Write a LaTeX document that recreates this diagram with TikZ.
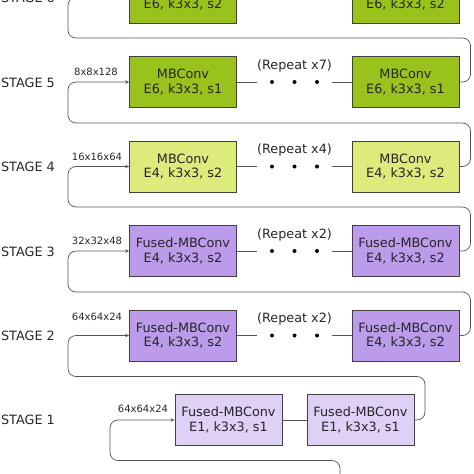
\documentclass[tikz,border=0pt]{standalone}
\usepackage{fontspec}
\setmainfont{DejaVu Sans}
\usetikzlibrary{arrows.meta}
\definecolor{gA}{HTML}{99C31C}
\definecolor{gB}{HTML}{DDEB7C}
\definecolor{pA}{HTML}{BB9BEA}
\definecolor{pB}{HTML}{DFD0F6}
\definecolor{ln}{HTML}{555555}
\definecolor{tx}{HTML}{262626}
\begin{document}
\begin{tikzpicture}[x=1pt,y=-1pt,
 blk/.style={draw=black!75, line width=0.8pt, minimum width=107pt, minimum height=51pt, inner sep=0pt, align=center, font=\fontsize{12.8}{14.5}\selectfont, text=tx},
 flow/.style={draw=ln, line width=0.7pt, rounded corners=8pt, -{Stealth[length=4pt,width=3.5pt]}},
 conn/.style={draw=ln, line width=0.7pt},
 stg/.style={anchor=east, font=\fontsize{12.8}{14}\selectfont, text=tx, inner sep=0pt},
 dimlab/.style={font=\fontsize{10}{12}\selectfont, inner sep=0pt, text=tx},
 rep/.style={font=\fontsize{12.8}{14}\selectfont, inner sep=0pt, text=tx},
 dotn/.style={circle, fill=black, inner sep=0pt, minimum size=4pt}]
\useasboundingbox (0,0) rectangle (474,474);
\clip (0,0) rectangle (474,474);

% ---- boxes
\node[blk, fill=gA] (s6L) at (183,-2.5) {MBConv\\E6, k3x3, s2};
\node[blk, fill=gA] (s6R) at (405.5,-2.5) {MBConv\\E6, k3x3, s2};
\node[blk, fill=gA] (s5L) at (183,82) {MBConv\\E6, k3x3, s1};
\node[blk, fill=gA] (s5R) at (405.5,82) {MBConv\\E6, k3x3, s1};
\node[blk, fill=gB] (s4L) at (183,166.5) {MBConv\\E4, k3x3, s2};
\node[blk, fill=gB] (s4R) at (405.5,166.5) {MBConv\\E4, k3x3, s2};
\node[blk, fill=pA] (s3L) at (183,251) {Fused-MBConv\\E4, k3x3, s2};
\node[blk, fill=pA] (s3R) at (405.5,251) {Fused-MBConv\\E4, k3x3, s2};
\node[blk, fill=pA] (s2L) at (183,335.5) {Fused-MBConv\\E4, k3x3, s2};
\node[blk, fill=pA] (s2R) at (405.5,335.5) {Fused-MBConv\\E4, k3x3, s2};
\node[blk, fill=pB] (s1L) at (228.5,420) {Fused-MBConv\\E1, k3x3, s1};
\node[blk, fill=pB] (s1R) at (360.5,420) {Fused-MBConv\\E1, k3x3, s1};

% ---- stage labels
\node[stg] (t6) at (55,-2) {STAGE 6};
\node[stg] (t5) at (55,83) {STAGE 5};
\node[stg] (t4) at (55,167) {STAGE 4};
\node[stg] (t3) at (55,252) {STAGE 3};
\node[stg] (t2) at (55,336) {STAGE 2};
\node[stg] (t1) at (55,420) {STAGE 1};

% ---- input sizes
\node[dimlab] (d5) at (96,72) {8x8x128};
\node[dimlab] (d4) at (97,157) {16x16x64};
\node[dimlab] (d3) at (97,241) {32x32x48};
\node[dimlab] (d2) at (97,317) {64x64x24};
\node[dimlab] (d1) at (143,409) {64x64x24};

% ---- repeats
\node[rep] (r5) at (294.5,66) {(Repeat x7)};
\node[rep] (r4) at (294.5,150) {(Repeat x4)};
\node[rep] (r3) at (294.5,235) {(Repeat x2)};
\node[rep] (r2) at (294.5,318.5) {(Repeat x2)};

\foreach \s/\y in {6/-2.5,5/82,4/166.5,3/251,2/335.5}{
  \node[dotn] (k\s a) at (272,\y) {};
  \node[dotn] (k\s b) at (294.5,\y) {};
  \node[dotn] (k\s c) at (317,\y) {};
  \coordinate (g\s a) at (257,\y);
  \coordinate (g\s b) at (332,\y);
  \draw[conn] (s\s L.east) -- (g\s a);
  \draw[conn] (g\s b) -- (s\s R.west);
}
\draw[conn] (s1L.east) -- (s1R.west);

% ---- loops between stages
\draw[flow] (s5R.east) -| (470.5,38) -| (68,-2.5) -- (s6L.west);
\draw[flow] (s4R.east) -| (470.5,123) -| (68,82) -- (s5L.west);
\draw[flow] (s3R.east) -| (470.5,207) -| (68,166.5) -- (s4L.west);
\draw[flow] (s2R.east) -| (470.5,292) -| (68,251) -- (s3L.west);
\draw[flow] (s1R.east) -| (425,376.5) -| (68,335.5) -- (s2L.west);
\coordinate (in) at (340,490);
\draw[flow] (in) |- (110,460.5) -- (110,420) -- (s1L.west);
\end{tikzpicture}
\end{document}
